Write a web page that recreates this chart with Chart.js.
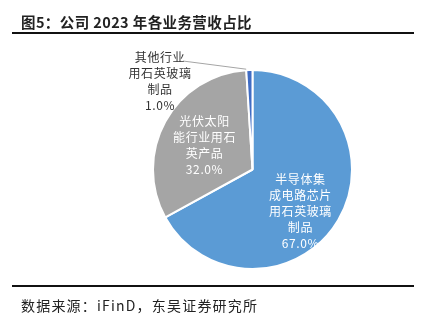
<!DOCTYPE html>
<html>
<head>
<meta charset="utf-8">
<script src="https://cdn.jsdelivr.net/npm/chart.js@4/dist/chart.umd.min.js"></script>
<style>
  html, body { margin: 0; padding: 0; background: #fff; }
  canvas { display: block; }
</style>
</head>
<body>
<canvas id="rev-pie" width="429" height="326"></canvas>
<script>
const segments = [
  ['半导体集', '成电路芯片', '用石英玻璃', '制品'],
  ['光伏太阳', '能行业用石', '英产品'],
  ['其他行业', '用石英玻璃', '制品']
];
const shares = [67.0, 32.0, 1.0];
const colors = ['#5b9bd5', '#a5a5a5', '#3f6cc4'];

const FONT_CJK = '"Noto Sans CJK SC", "Noto Sans", sans-serif';

// title, rules, source, and slice labels
const decor = {
  id: 'decor',
  afterDraw(chart) {
    const ctx = chart.ctx;
    ctx.save();
    ctx.fillStyle = '#222';
    ctx.textBaseline = 'middle';
    ctx.font = 'bold 14.5px ' + FONT_CJK;
    ctx.letterSpacing = '0.4px';
    ctx.fillText('图5：公司 2023 年各业务营收占比', 21, 22);

    ctx.fillStyle = '#111';
    ctx.fillRect(12, 32, 402, 2);
    ctx.fillRect(12, 285, 402, 2);

    ctx.fillStyle = '#222';
    ctx.font = '14px ' + FONT_CJK;
    ctx.letterSpacing = '1.2px';
    ctx.fillText('数据来源：iFinD，东吴证券研究所', 21, 306);

    const arcs = chart.getDatasetMeta(0).data;
    ctx.textAlign = 'center';
    ctx.font = '12px ' + FONT_CJK;
    ctx.letterSpacing = '0.6px';
    const lh = 16;

    // inside labels
    [[0, 0.56, 14], [1, 0.55, 2]].forEach(([i, f, dy]) => {
      const a = arcs[i];
      const mid = (a.startAngle + a.endAngle) / 2;
      const r = a.outerRadius * f;
      const cx = a.x + Math.cos(mid) * r;
      const cy = a.y + Math.sin(mid) * r + dy;
      const lines = segments[i].concat([shares[i].toFixed(1) + '%']);
      const y0 = cy - (lines.length - 1) * lh / 2;
      ctx.fillStyle = '#fff';
      lines.forEach((t, k) => ctx.fillText(t, cx, y0 + k * lh));
    });

    // outside label for small slice with leader line
    const s = arcs[2];
    const px = s.x + Math.cos(s.startAngle) * (s.outerRadius + 1);
    const py = s.y + Math.sin(s.startAngle) * (s.outerRadius + 1);
    ctx.strokeStyle = '#a5a5a5';
    ctx.lineWidth = 1;
    ctx.beginPath();
    ctx.moveTo(px, py);
    ctx.lineTo(183, 61);
    ctx.stroke();
    const lines = segments[2].concat([shares[2].toFixed(1) + '%']);
    ctx.fillStyle = '#333';
    lines.forEach((t, k) => ctx.fillText(t, 160, 57 + k * lh));
    ctx.restore();
  }
};

new Chart(document.getElementById('rev-pie'), {
  type: 'pie',
  data: {
    labels: segments.map(x => x.join('')),
    datasets: [{
      data: shares,
      backgroundColor: colors,
      borderColor: '#ffffff',
      borderWidth: 2
    }]
  },
  options: {
    responsive: false,
    animation: false,
    layout: { padding: { top: 69, bottom: 56, left: 152, right: 76 } },
    plugins: { legend: { display: false }, tooltip: { enabled: false } }
  },
  plugins: [decor]
});
</script>
</body>
</html>
